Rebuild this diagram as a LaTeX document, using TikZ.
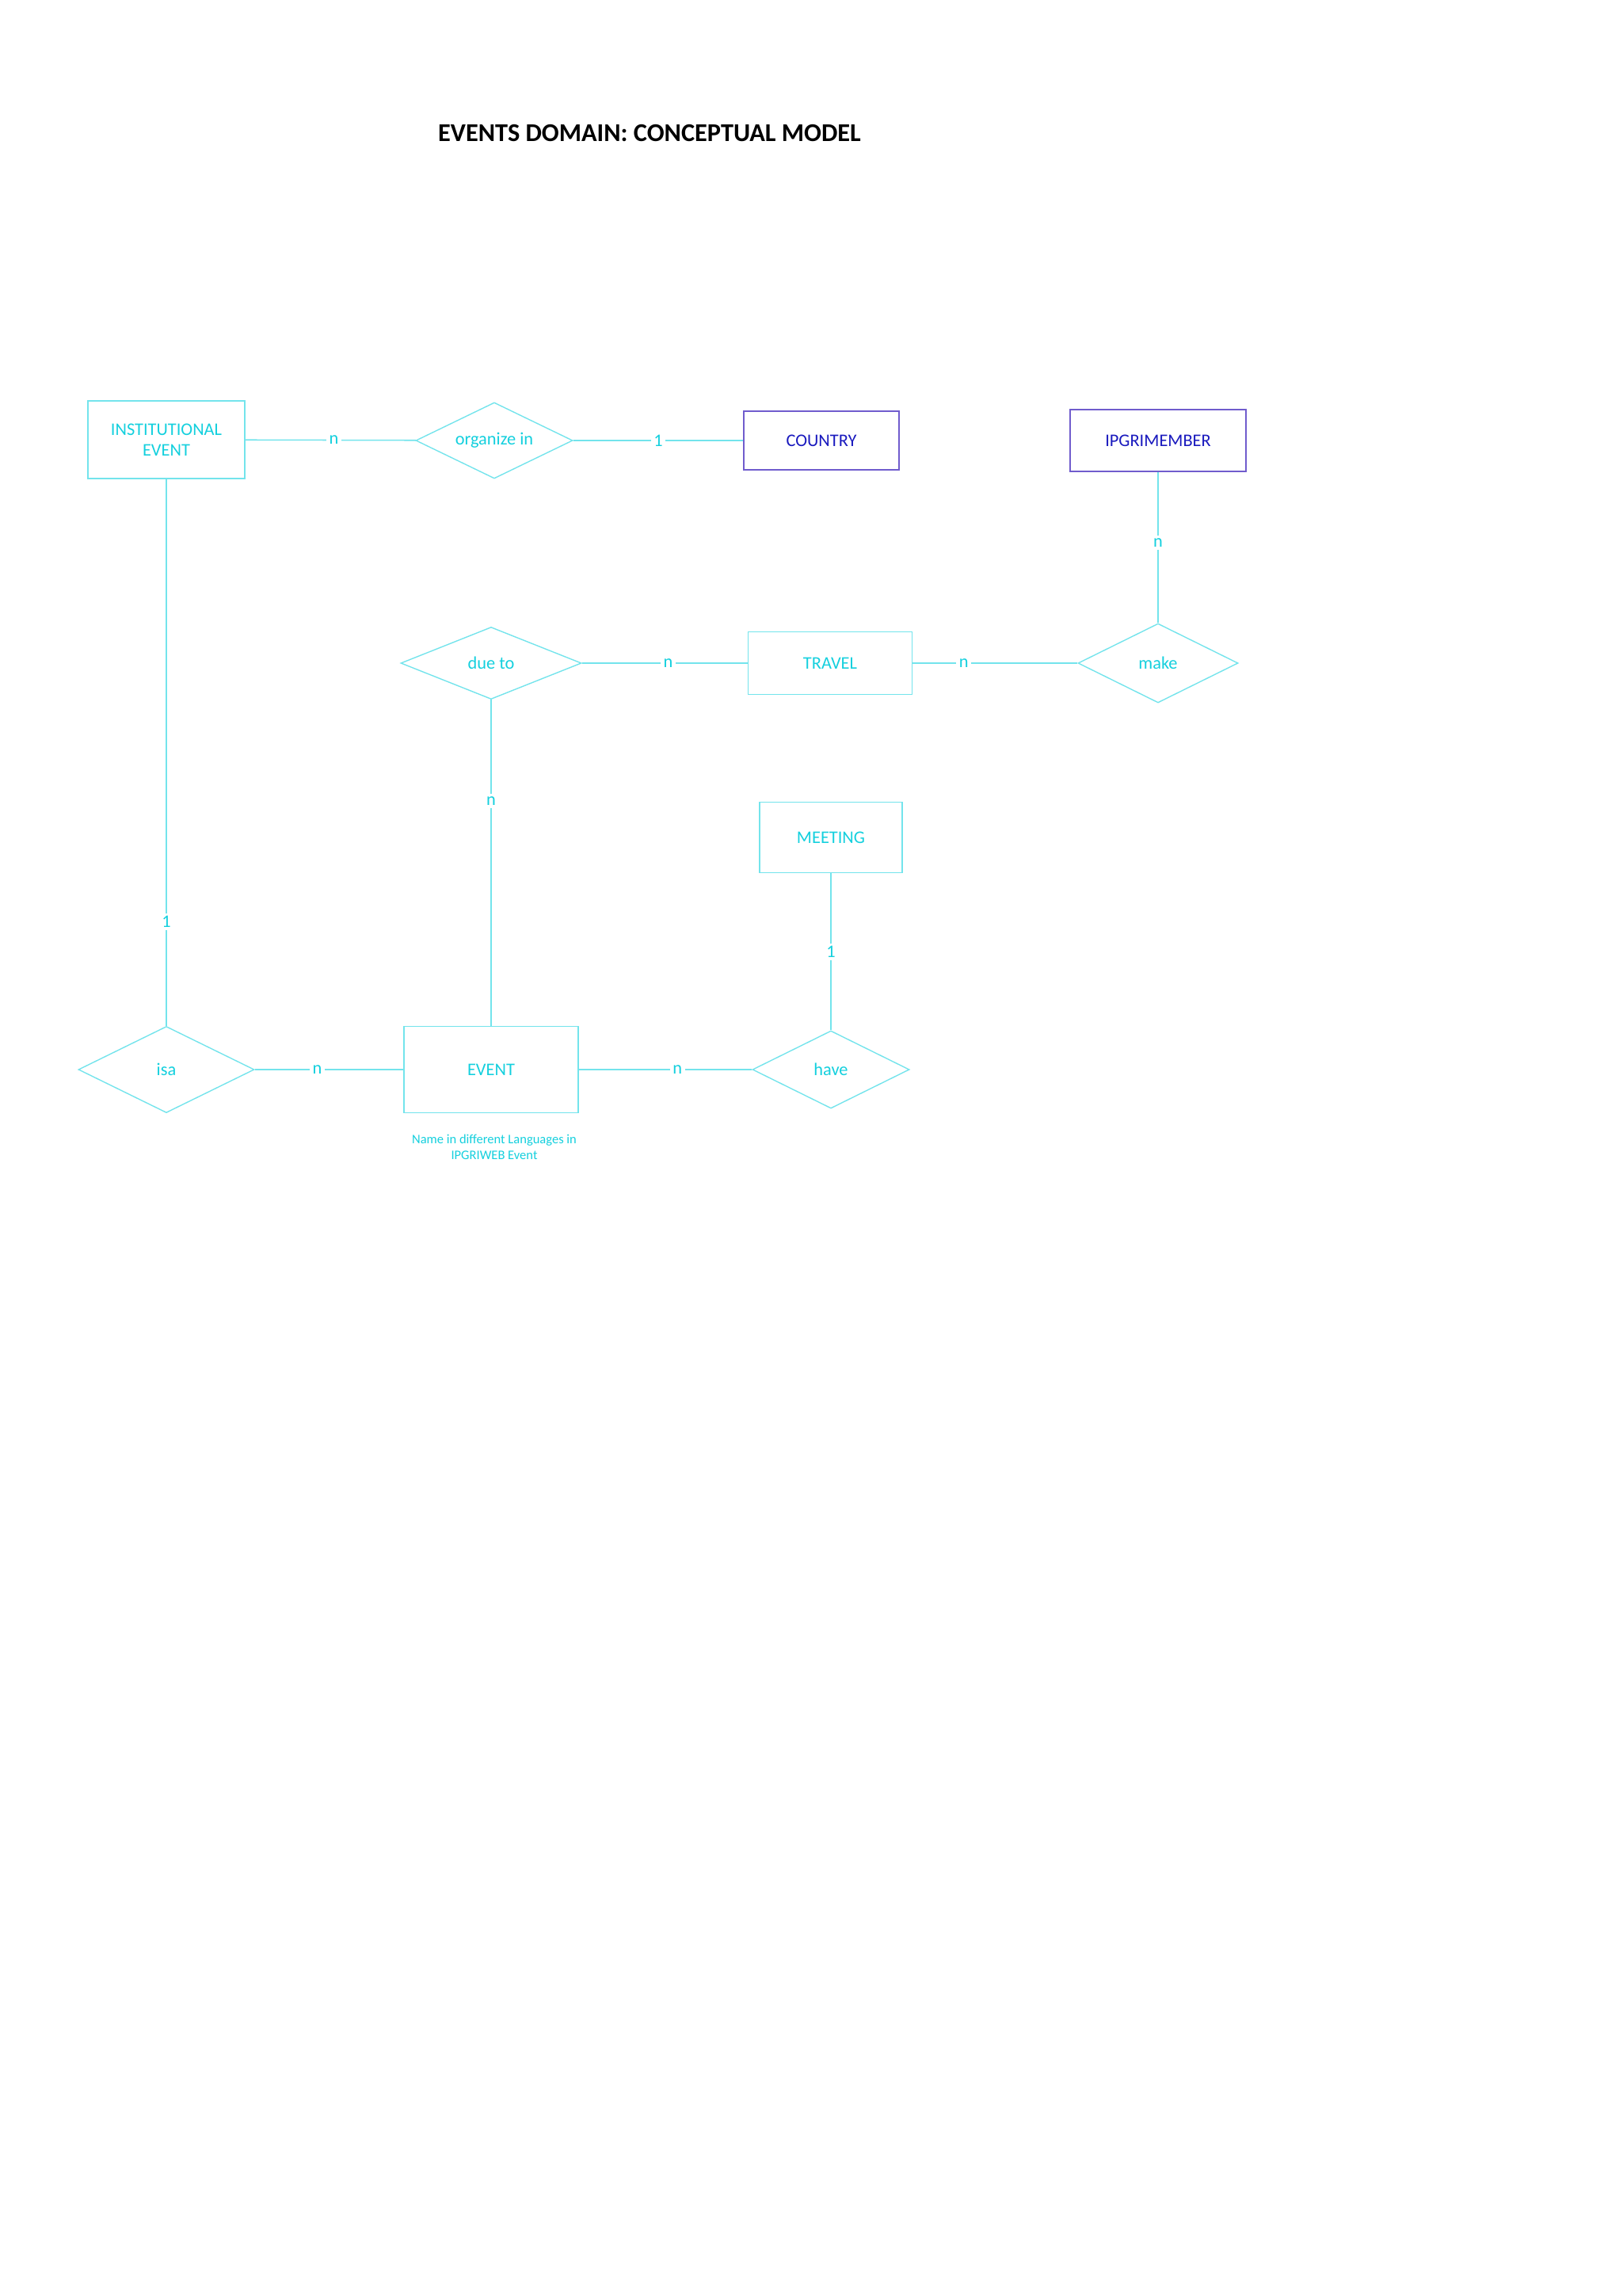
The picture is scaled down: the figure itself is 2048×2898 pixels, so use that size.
\documentclass[tikz,border=0pt]{standalone}
\usepackage{fontspec}
\setmainfont{Carlito}
\usepackage{tikz}
\usepackage{xcolor}
\usetikzlibrary{shapes.geometric}
\definecolor{er-line}{RGB}{115,228,236}
\definecolor{er-text}{RGB}{20,208,222}
\definecolor{key-line}{RGB}{112,92,205}
\definecolor{key-text}{RGB}{25,25,190}
\newcommand{\pxu}{0.29053pt}
\tikzset{
    entity-box/.style = {draw=er-line, fill=white, rectangle, text=er-text, font=\fontsize{6.5}{7.6}\selectfont, align=center, inner sep=0pt},
    key-box/.style = {entity-box, draw=key-line, text=key-text},
    relation-diamond/.style = {draw=er-line, fill=white, diamond, aspect=2, text=er-text, font=\fontsize{6.5}{7.6}\selectfont, inner sep=0pt},
    card-label/.style = {fill=white, text=er-text, font=\fontsize{6.5}{7.6}\selectfont, inner sep=1pt},
    er-link/.style = {draw=er-line, line width=0.45pt},
}

\begin{document}
\begin{tikzpicture}[x=0.29053pt, y=-0.29053pt]
\useasboundingbox[fill=white] (0,0) rectangle (2048,2898);
\node[font=\fontsize{9.4}{11}\selectfont\bfseries] (title) at (820,168) {EVENTS DOMAIN: CONCEPTUAL MODEL};

\node[entity-box, minimum width=198*\pxu, minimum height=98*\pxu] (ievent) at (210,555) {INSTITUTIONAL\\EVENT};
\node[relation-diamond, minimum width=198*\pxu, minimum height=96*\pxu] (organize) at (624,556) {organize in};
\node[key-box, minimum width=196*\pxu, minimum height=74*\pxu] (country) at (1037,556) {COUNTRY};
\node[key-box, minimum width=222*\pxu, minimum height=78*\pxu] (member) at (1462,556) {IPGRIMEMBER};
\node[relation-diamond, minimum width=202*\pxu, minimum height=100*\pxu] (make) at (1462,837) {make};
\node[entity-box, minimum width=207*\pxu, minimum height=79*\pxu] (travel) at (1048,837) {TRAVEL};
\node[relation-diamond, minimum width=228*\pxu, minimum height=91*\pxu] (dueto) at (620,837) {due to};
\node[entity-box, minimum width=180*\pxu, minimum height=89*\pxu] (meeting) at (1049,1057) {MEETING};
\node[relation-diamond, minimum width=222*\pxu, minimum height=109*\pxu] (isa) at (210,1350) {isa};
\node[entity-box, minimum width=220*\pxu, minimum height=109*\pxu] (event) at (620,1350) {EVENT};
\node[relation-diamond, minimum width=198*\pxu, minimum height=98*\pxu] (have) at (1049,1350) {have};
\node[text=er-text, font=\fontsize{4.8}{5.8}\selectfont, align=center] (note) at (624,1448) {Name in different Languages in\\IPGRIWEB Event};

\draw[er-link] (ievent) -- node[card-label, pos=0.52] {n} (organize);
\draw[er-link] (organize) -- node[card-label] {1} (country);
\draw[er-link] (member) -- node[card-label, pos=0.47] {n} (make);
\draw[er-link] (dueto) -- node[card-label, pos=0.52] {n} (travel);
\draw[er-link] (travel) -- node[card-label, pos=0.31] {n} (make);
\draw[er-link] (dueto) -- node[card-label, pos=0.31] {n} (event);
\draw[er-link] (ievent) -- node[card-label, pos=0.81] {1} (isa);
\draw[er-link] (meeting) -- node[card-label] {1} (have);
\draw[er-link] (isa) -- node[card-label, pos=0.42] {n} (event);
\draw[er-link] (event) -- node[card-label, pos=0.57] {n} (have);
\end{tikzpicture}
\end{document}
